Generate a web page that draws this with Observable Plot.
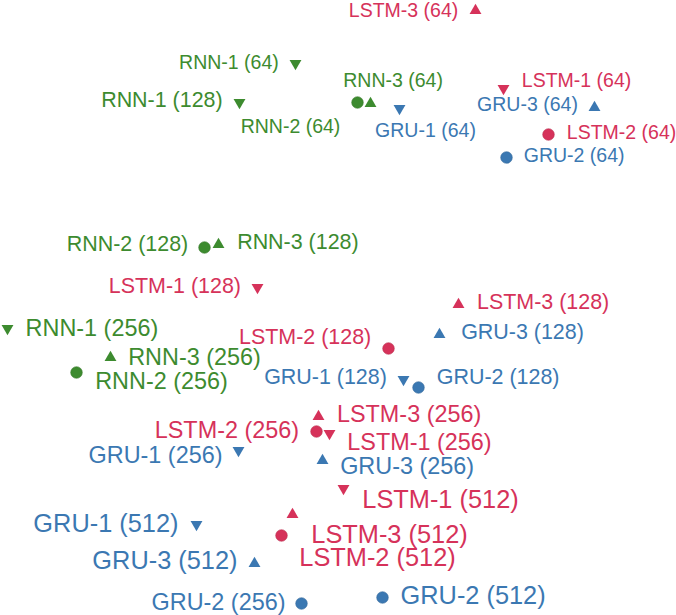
<!DOCTYPE html>
<html>
<head>
<meta charset="utf-8">
<script src="https://cdn.jsdelivr.net/npm/d3@7"></script>
<script src="https://cdn.jsdelivr.net/npm/@observablehq/plot@0.6"></script>
<style>
  html, body { margin: 0; padding: 0; background: #fff; }
  #chart { width: 676px; height: 615px; }
  svg { font-family: "Liberation Sans", Arial, sans-serif; }
</style>
</head>
<body>
<div id="chart"></div>
<script>
// Model family, variant, hidden size for each embedded configuration
const models   = ["RNN","RNN","RNN","RNN","RNN","RNN","RNN","RNN","RNN",
                  "LSTM","LSTM","LSTM","LSTM","LSTM","LSTM","LSTM","LSTM","LSTM","LSTM","LSTM","LSTM",
                  "GRU","GRU","GRU","GRU","GRU","GRU","GRU","GRU","GRU","GRU","GRU","GRU"];
const variants = [1,2,3,1,2,3,1,2,3,
                  1,2,3,1,2,3,1,2,3,1,2,3,
                  1,2,3,1,2,3,1,2,3,1,2,3];
const sizes    = [64,64,64,128,128,128,256,256,256,
                  64,64,64,128,128,128,256,256,256,512,512,512,
                  64,64,64,128,128,128,256,256,256,512,512,512];
// Embedding coordinates of each point
const xs = [-0.25, 2.85, 3.5, -3.05, -4.8, -4.1, -14.65, -11.2, -9.5,
            10.15, 12.4, 8.75, -2.15, 4.4, 7.9, 1.45, 0.8, 0.9, 2.15, -0.95, -0.4,
            4.95, 10.3, 14.7, 5.15, 5.9, 6.95, -3.1, 0.05, 1.1, -5.2, 4.1, -2.3];
const ys = [12.85, 10.9, 10.85, 10.9, 3.65, 3.8, -0.4, -2.6, -1.85,
            11.6, 9.3, 15.5, 1.65, -1.4, 0.8, -5.65, -5.55, -4.8, -8.4, -10.75, -9.7,
            10.6, 8.15, 10.65, -2.95, -3.35, -0.7, -6.5, -14.15, -7.0, -10.2, -13.85, -12.15];
// Label anchor (centre) in the same embedding coordinates
const labelXs = [-3.58, -0.5, 4.63, -6.93, -8.65, -0.13, -10.43, -6.95, -5.3,
                 13.8, 16.05, 5.15, -6.28, 0.23, 12.13, 5.95, -3.68, 5.43, 7.0, 3.85, 4.45,
                 6.25, 13.68, 11.35, 1.25, 9.88, 11.1, -7.25, -4.1, 5.33, -9.73, 8.63, -6.78];
const labelYs = [12.9, 9.7, 12.0, 11.0, 3.8, 3.9, -0.4, -3.05, -1.85,
                 12.0, 9.4, 15.5, 1.7, -0.85, 0.9, -6.1, -5.5, -4.7, -8.95, -11.85, -10.7,
                 9.5, 8.25, 10.8, -2.85, -2.85, -0.6, -6.75, -14.1, -7.3, -10.15, -13.75, -12.0];

const modelOrder = ["RNN", "LSTM", "GRU"];
const modelColors = ["#3d8b2f", "#d6325a", "#3b78b2"];

const data = models.map((m, i) => ({
  model: m,
  variant: variants[i],
  size: sizes[i],
  x: xs[i],
  y: ys[i],
  lx: labelXs[i],
  ly: labelYs[i],
  label: `${m}-${variants[i]} (${sizes[i]})`
}));

const triangleDown = {
  draw(context, size) {
    const y = Math.sqrt(size / (Math.sqrt(3) * 3));
    context.moveTo(0, 2 * y);
    context.lineTo(-Math.sqrt(3) * y, -y);
    context.lineTo(Math.sqrt(3) * y, -y);
    context.closePath();
  }
};

const fontFor = (s) => 19.5 + 1.95 * Math.log2(s / 64);
const strokeFor = (m) => d3.color(modelColors[modelOrder.indexOf(m)]).darker(0.4).formatHex();

const chart = Plot.plot({
  width: 676,
  height: 615,
  margin: 0,
  x: {domain: [-15, 18.8], axis: null},
  y: {domain: [-14.75, 16], axis: null},
  color: {domain: modelOrder, range: modelColors},
  marks: [
    Plot.dot(data.filter(d => d.variant === 1), {
      x: "x", y: "y", fill: "model", symbol: triangleDown, r: 4.4, stroke: null
    }),
    Plot.dot(data.filter(d => d.variant === 2), {
      x: "x", y: "y", fill: "model", symbol: "circle", r: 5.8,
      stroke: d => strokeFor(d.model), strokeWidth: 0.6
    }),
    Plot.dot(data.filter(d => d.variant === 3), {
      x: "x", y: "y", fill: "model", symbol: "triangle", r: 4.4, stroke: null
    }),
    Plot.text(data, {
      x: "lx", y: "ly", text: "label", fill: "model",
      fontSize: d => fontFor(d.size), textAnchor: "middle"
    })
  ]
});

document.getElementById("chart").appendChild(chart);
</script>
</body>
</html>
